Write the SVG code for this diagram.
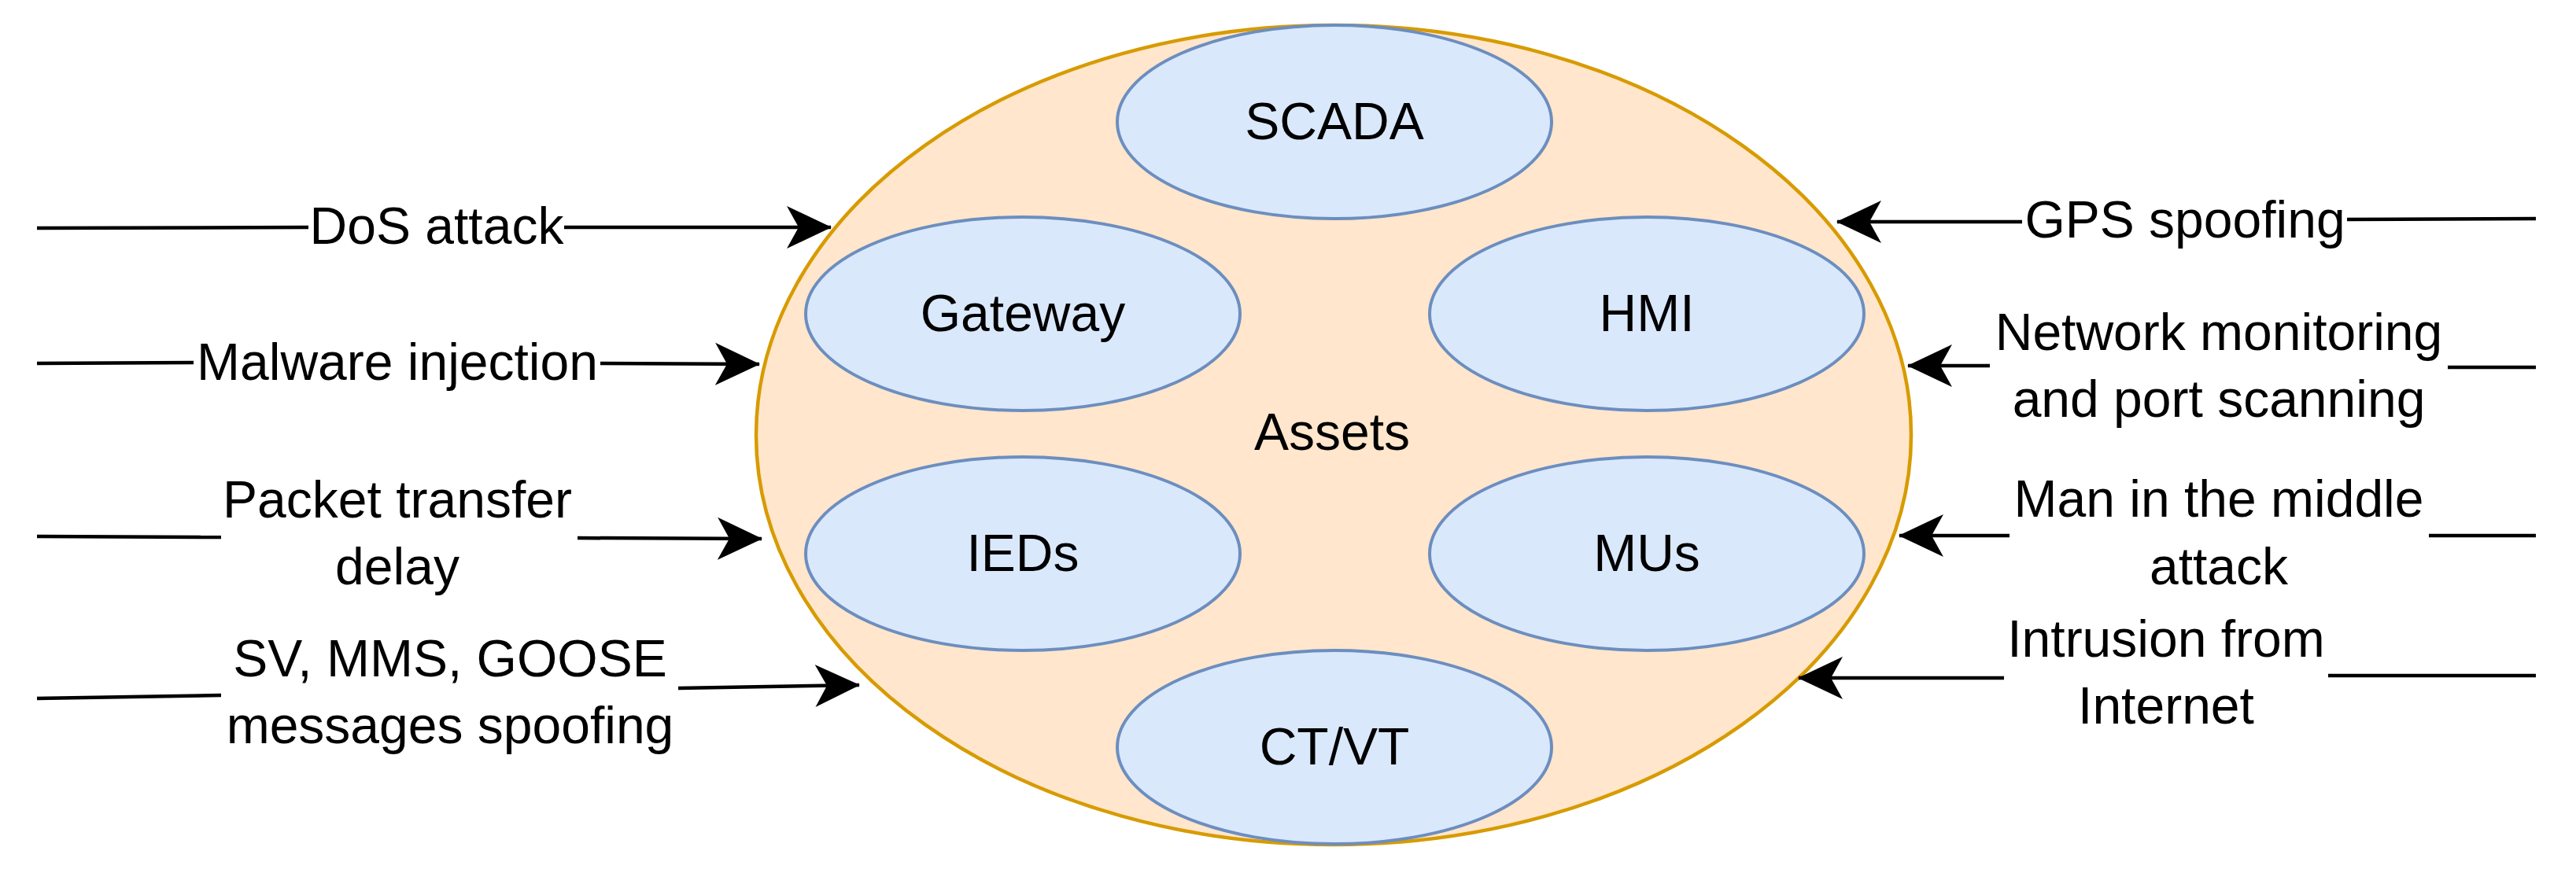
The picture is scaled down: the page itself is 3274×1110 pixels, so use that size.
<svg xmlns="http://www.w3.org/2000/svg" width="3274" height="1110" viewBox="0 0 3274 1110">
<defs>
<style>
.t{font-family:"Liberation Sans",Arial,sans-serif;font-size:66px;fill:#000;text-anchor:middle}
.c{stroke:#000;stroke-width:4.5;fill:none}
.a{marker-end:url(#ah)}
.asset{fill:#dae8fc;stroke:#6c8ebf;stroke-width:4}
</style>
<marker id="ah" markerUnits="userSpaceOnUse" markerWidth="58" markerHeight="56" viewBox="0 0 58 56" refX="56" refY="28" orient="auto">
<path d="M0,1 L57,28 L0,55 L15,28 z" fill="#000"/>
</marker>
</defs>
<rect width="3274" height="1110" fill="#fff"/>
<g id="assets">
<ellipse cx="1695" cy="553" rx="734" ry="521" fill="#ffe6cc" stroke="#d79b00" stroke-width="4.5"/>
<text class="t" x="1693" y="572">Assets</text>
</g>
<g id="scada"><ellipse class="asset" cx="1696" cy="155" rx="276" ry="123"/><text class="t" x="1696" y="177">SCADA</text></g>
<g id="gateway"><ellipse class="asset" cx="1300" cy="399" rx="276" ry="123"/><text class="t" x="1300" y="421">Gateway</text></g>
<g id="hmi"><ellipse class="asset" cx="2093" cy="399" rx="276" ry="123"/><text class="t" x="2093" y="421">HMI</text></g>
<g id="ieds"><ellipse class="asset" cx="1300" cy="704" rx="276" ry="123"/><text class="t" x="1300" y="726">IEDs</text></g>
<g id="mus"><ellipse class="asset" cx="2093" cy="704" rx="276" ry="123"/><text class="t" x="2093" y="726">MUs</text></g>
<g id="ctvt"><ellipse class="asset" cx="1696" cy="950" rx="276" ry="123"/><text class="t" x="1696" y="972">CT/VT</text></g>
<g id="connectors">
<path class="c" d="M47,290 L392,289"/><path class="c a" d="M717,289 L1056,289"/>
<path class="c" d="M47,462 L246,461"/><path class="c a" d="M763,462 L965,463"/>
<path class="c" d="M47,682 L281,683"/><path class="c a" d="M734,684 L968,685"/>
<path class="c" d="M47,888 L281,884"/><path class="c a" d="M862,875 L1092,871"/>
<path class="c" d="M3223,278 L2983,279"/><path class="c a" d="M2570,282 L2335,282"/>
<path class="c" d="M3223,467 L3111,467"/><path class="c a" d="M2529,465 L2425,465"/>
<path class="c" d="M3223,681 L3087,681"/><path class="c a" d="M2554,681 L2414,681"/>
<path class="c" d="M3223,859 L2959,859"/><path class="c a" d="M2547,862 L2286,862"/>
</g>
<g id="labels">
<text class="t" x="555" y="310">DoS attack</text>
<text class="t" x="505" y="483">Malware injection</text>
<text class="t" x="505" y="658">Packet transfer<tspan x="505" dy="85">delay</tspan></text>
<text class="t" x="572" y="860">SV, MMS, GOOSE<tspan x="572" dy="85">messages spoofing</tspan></text>
<text class="t" x="2777" y="302">GPS spoofing</text>
<text class="t" x="2820" y="445">Network monitoring<tspan x="2820" dy="85">and port scanning</tspan></text>
<text class="t" x="2820" y="657">Man in the middle<tspan x="2820" dy="86">attack</tspan></text>
<text class="t" x="2753" y="835">Intrusion from<tspan x="2753" dy="85">Internet</tspan></text>
</g>
</svg>
